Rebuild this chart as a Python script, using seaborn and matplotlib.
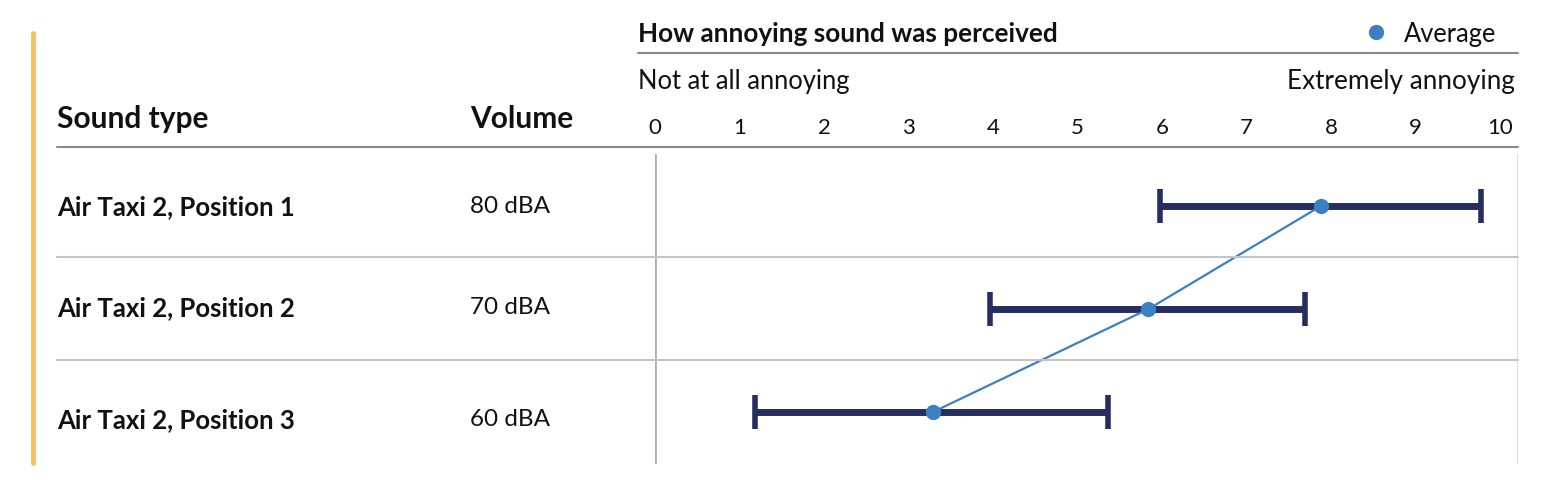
import matplotlib
matplotlib.use("Agg")
import matplotlib.pyplot as plt
import seaborn as sns

# data
sound_types = ["Air Taxi 2, Position 1", "Air Taxi 2, Position 2", "Air Taxi 2, Position 3"]
volumes = ["80 dBA", "70 dBA", "60 dBA"]
avg_score = [7.88, 5.84, 3.29]
min_score = [5.98, 3.97, 1.18]
max_score = [9.78, 7.69, 5.36]
ticks = [0, 1, 2, 3, 4, 5, 6, 7, 8, 9, 10]

navy = "#252E5F"
blue = "#3B80C3"
W, H = 1556, 500

sns.set_theme(style="white")
plt.rcParams["font.family"] = ["Lato", "DejaVu Sans"]

fig = plt.figure(figsize=(W / 100, H / 100), dpi=100)


def px(x, y):
    return x / W, 1 - y / H


# plot area: x from 655px (0) to 1518px, rows centred at 206/308/412 px
left, top = px(655, 154.5)
right, bottom = px(1518, 463.5)
ax = fig.add_axes([left, bottom, right - left, top - bottom])
ax.set_xlim(0, (1518 - 655) / 84.5)
ax.set_ylim(2.5, -0.5)
for s in ax.spines.values():
    s.set_visible(False)
ax.set_xticks([])
ax.set_yticks([])

rows = list(range(len(sound_types)))

# range bars with caps
xerr = [[a - lo for a, lo in zip(avg_score, min_score)],
        [hi - a for a, hi in zip(avg_score, max_score)]]
ax.errorbar(avg_score, rows, xerr=xerr, fmt="none", ecolor=navy,
            elinewidth=5, capsize=12, capthick=4, zorder=2)

# average line + markers
sns.lineplot(x=avg_score, y=rows, sort=False, color=blue, linewidth=1.6,
             marker="o", markersize=11, markeredgewidth=0, ax=ax, zorder=3)

# vertical guide lines
ax.axvline(0, color="#b0b0b0", linewidth=2, zorder=1)
ax.axvline(ax.get_xlim()[1], color="#d8d8d8", linewidth=1.2, zorder=1)


# figure-level table lines
def hline(y, x0, x1, color, lw):
    fig.add_artist(plt.Line2D([x0 / W, x1 / W], [1 - y / H, 1 - y / H],
                              color=color, linewidth=lw, transform=fig.transFigure))


hline(53, 638, 1518, "#8a8a8a", 1.5)
hline(147, 57, 1518, "#8a8a8a", 1.5)
hline(256.5, 57, 1518, "#c4c4c4", 1.5)
hline(359.5, 57, 1518, "#c4c4c4", 1.5)

# yellow accent bar
fig.add_artist(plt.Line2D([33 / W, 33 / W], [1 - 33 / H, 1 - 463 / H],
                          color="#F4C262", linewidth=3.5, transform=fig.transFigure))

ink = "#111111"
# headers
fig.text(*px(57, 119), "Sound type", fontsize=21.5, fontweight="bold", va="center", color=ink)
fig.text(*px(470, 119), "Volume", fontsize=21.5, fontweight="bold", va="center", color=ink)
fig.text(*px(638, 34), "How annoying sound was perceived", fontsize=18.8, fontweight="bold",
         va="center", color=ink)
fig.text(*px(638, 81), "Not at all annoying", fontsize=18.4, va="center", color=ink)
fig.text(*px(1515, 81), "Extremely annoying", fontsize=18.8, va="center", ha="right", color=ink)

# legend
fig.add_artist(plt.Line2D([1376 / W], [1 - 32 / H], marker="o", markersize=11,
                          color=blue, markeredgewidth=0, transform=fig.transFigure))
fig.text(*px(1404, 34), "Average", fontsize=18.4, va="center", color=ink)

# tick labels along the scale
for t in ticks:
    ax.text(t, -0.5 - 26 / 103, str(t), ha="center", va="center",
            fontsize=16, color=ink, clip_on=False)

# row labels
label_y = [207, 308, 420]
for name, vol, y in zip(sound_types, volumes, label_y):
    fig.text(*px(57, y), name, fontsize=18.5, fontweight="bold", va="center", color=ink)
    fig.text(*px(470, y), vol, fontsize=17.5, va="center", color=ink)

fig.savefig("out.png", dpi=100, facecolor="white")
